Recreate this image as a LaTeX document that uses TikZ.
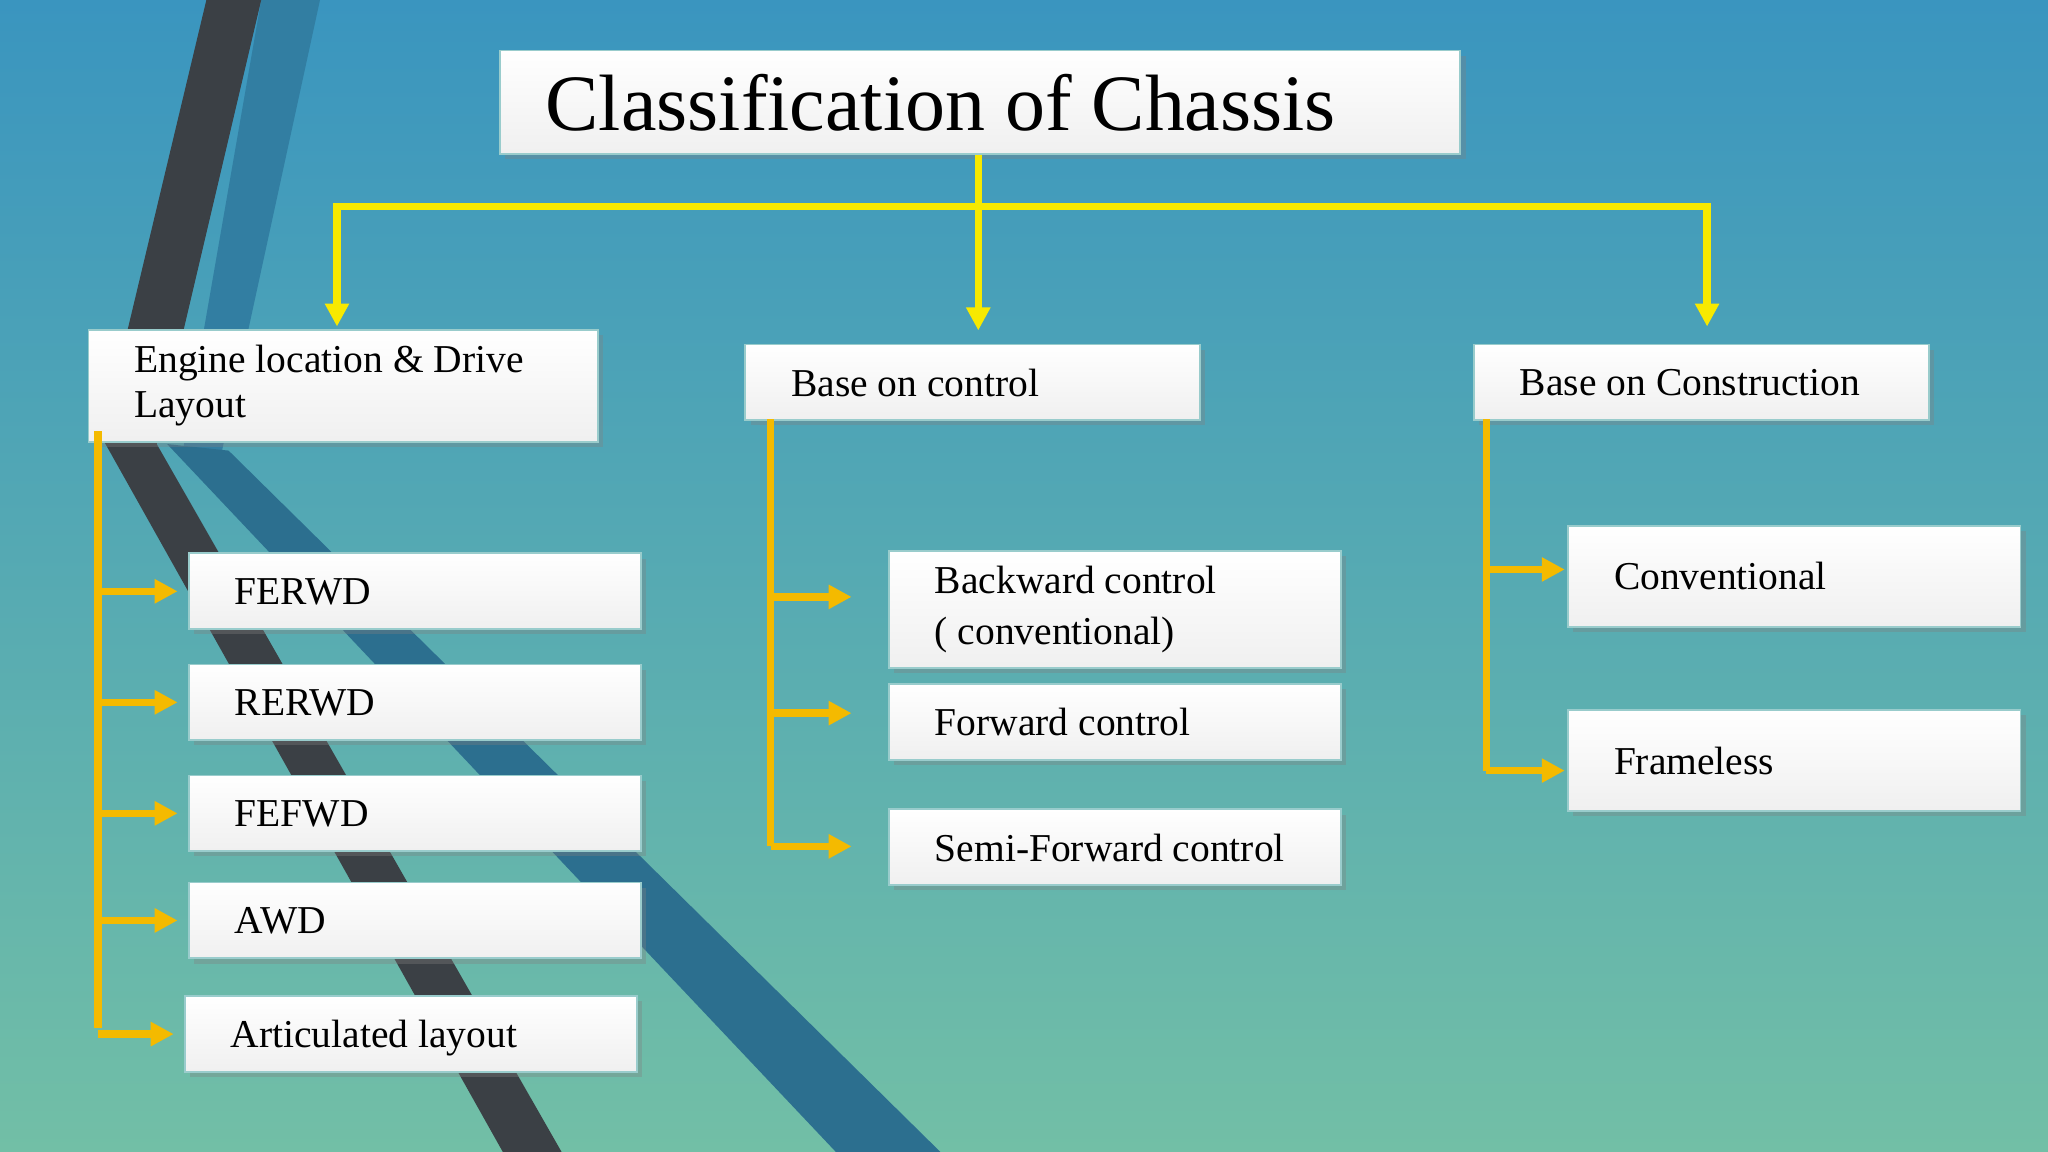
\documentclass[tikz,border=0pt]{standalone}
\usepackage{fontspec}
\setmainfont{Liberation Serif}
\usetikzlibrary{arrows.meta,shadows}

\definecolor{bgtop}{HTML}{3A95BF}
\definecolor{bgbot}{HTML}{72BFA6}
\definecolor{stripegray}{HTML}{3B4045}
\definecolor{stripeblue}{HTML}{2C6F8F}
\definecolor{lineyel}{HTML}{F7E900}
\definecolor{lineorg}{HTML}{F4BA00}

\tikzset{
  box/.style={draw=white!60!teal,line width=0.4pt,top color=white,bottom color=black!6,
    drop shadow={opacity=0.35,shadow xshift=0.4mm,shadow yshift=-0.4mm},
    anchor=north west,align=flush left,inner xsep=0.35cm,
    text width=#1,font=\fontsize{8.6}{10}\selectfont},
  box/.default=2.76cm,
  one/.style={text depth=0pt},
  main/.style={lineyel,line width=1.6pt},
  sub/.style={lineorg,line width=1.6pt},
  tip/.style={-{Triangle[width=5pt,length=5pt]}}
}

\begin{document}
\begin{tikzpicture}[x=0.01cm,y=-0.01cm]
% background
\shade[top color=bgtop,bottom color=bgbot] (0,0) rectangle (1568,882);
\fill[stripeblue!60!bgtop] (200,0) -- (245,0) -- (170,345) -- (140,345) -- cycle;
\fill[stripeblue] (128,340) -- (175,345) -- (720,882) -- (640,882) -- cycle;
\fill[stripegray] (158,0) -- (200,0) -- (120,340) -- (430,882) -- (385,882) -- (78,335) -- cycle;

% title and the three groups
\node[box=6.65cm,one,minimum height=0.79cm,font=\fontsize{17.4}{20}\selectfont] (title) at (382,38) {Classification of Chassis};
\node[box=3.2cm,minimum height=0.78cm,font=\fontsize{8.6}{9.8}\selectfont] (engine) at (67,252) {Engine location \& Drive\\Layout};
\node[box=2.78cm,one,minimum height=0.58cm] (control) at (570,263) {Base on control};
\node[box=2.78cm,one,minimum height=0.58cm] (constr) at (1128,263) {Base on Construction};

% children
\node[box,one,minimum height=0.58cm] (ferwd) at (144,423) {FERWD};
\node[box,one,minimum height=0.58cm] (rerwd) at (144,508) {RERWD};
\node[box,one,minimum height=0.58cm] (fefwd) at (144,593) {FEFWD};
\node[box,one,minimum height=0.58cm] (awd) at (144,675) {AWD};
\node[box,one,minimum height=0.58cm] (artic) at (141,762) {Articulated layout};

\node[box,minimum height=0.78cm,font=\fontsize{8.6}{11}\selectfont] (backward) at (680,421) {Backward control\\( conventional)};
\node[box,one,minimum height=0.58cm] (forward) at (680,523) {Forward control};
\node[box,one,minimum height=0.58cm] (semi) at (680,619) {Semi-Forward control};

\node[box,one,minimum height=0.77cm] (conv) at (1200,402) {Conventional};
\node[box,one,minimum height=0.77cm] (frameless) at (1200,543) {Frameless};

% top level connectors
\coordinate (hub) at (749,158);
\draw[main] (hub |- title.south) -- (hub);
\draw[main,tip] (hub) -| (258,250);
\draw[main,tip] (hub) -- (749,253);
\draw[main,tip] (hub) -| (1307,250);

% left spine
\draw[sub] (75,330) -- (75,787);
\foreach \n in {ferwd,rerwd,fefwd,awd,artic}
  \draw[sub,tip] (75,0 |- \n.west) -- ([xshift=-0.08cm]\n.west);

% middle spine
\draw[sub] (590,321) -- (590,648);
\foreach \n/\y in {backward/457,forward/546,semi/648}
  \draw[sub,tip] (590,\y) -- (652,\y);

% right spine
\draw[sub] (1138,321) -- (1138,590);
\foreach \n/\y in {conv/436,frameless/590}
  \draw[sub,tip] (1138,\y) -- (1198,\y);
\end{tikzpicture}
\end{document}
